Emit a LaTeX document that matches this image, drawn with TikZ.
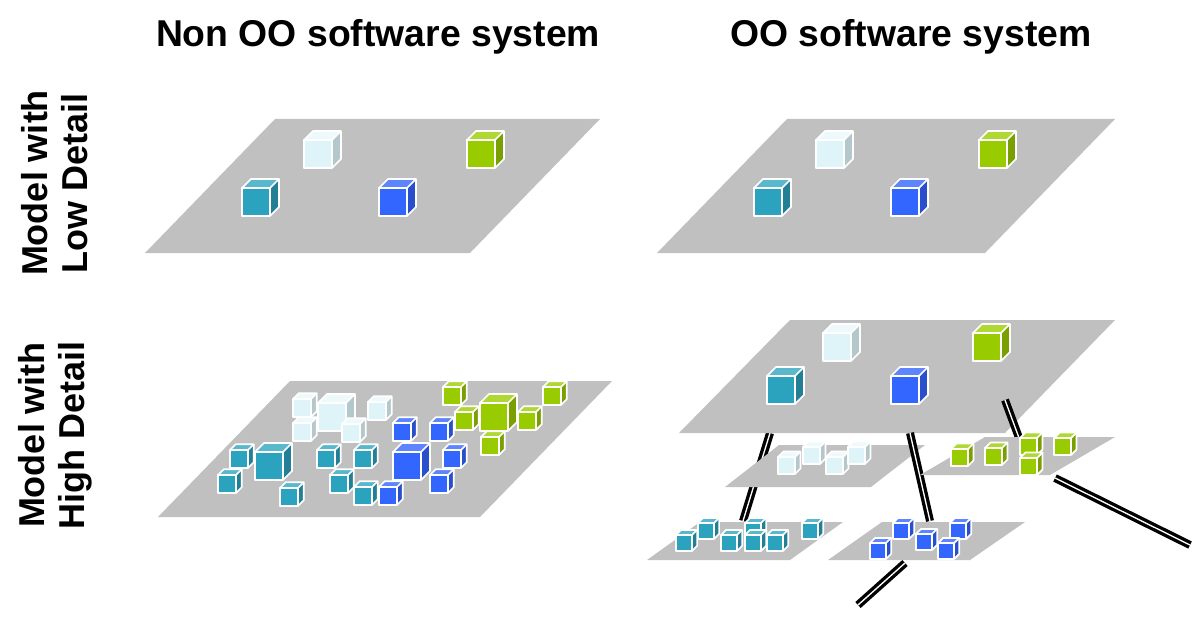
\documentclass[tikz,border=0pt]{standalone}
\usepackage{fontspec}
\setmainfont{Liberation Sans}
\definecolor{lF}{HTML}{DFF4F9}\definecolor{lT}{HTML}{EEF9FC}\definecolor{lS}{HTML}{B4C8CC}
\definecolor{tF}{HTML}{2CA3BE}\definecolor{tT}{HTML}{5AB8CD}\definecolor{tS}{HTML}{237F95}
\definecolor{bF}{HTML}{3366FF}\definecolor{bT}{HTML}{5C85FF}\definecolor{bS}{HTML}{2A4FCC}
\definecolor{gF}{HTML}{99CC00}\definecolor{gT}{HTML}{B0D833}\definecolor{gS}{HTML}{7A9F00}
\definecolor{plane}{HTML}{C0C0C0}
\newcommand\cb[4]{%
  \pgfmathsetmacro\dd{0.32*#3}%
  \fill[#4F] (#1,#2) rectangle ++(#3,#3);
  \fill[#4T] (#1,#2) -- ++(\dd,-\dd) -- ++(#3,0) -- ++(-\dd,\dd) -- cycle;
  \fill[#4S] ({#1+#3},#2) -- ++(\dd,-\dd) -- ++(0,#3) -- ++(-\dd,\dd) -- cycle;
  \draw[cubeedge] (#1,#2) rectangle ++(#3,#3);
  \draw[cubeedge] (#1,{#2+#3}) -- (#1,#2) -- ++(\dd,-\dd) -- ++(#3,0) -- ++(0,#3) -- ++(-\dd,\dd);
  \draw[cubeedge] ({#1+#3},#2) -- ++(\dd,-\dd);
}
\tikzset{cubeedge/.style={white,line width=1.3pt,line join=round},
  planefill/.style={fill=plane},
  title/.style={font=\fontsize{28}{31}\selectfont\bfseries},
  side/.style={font=\fontsize{27}{30}\selectfont\bfseries,align=center,rotate=90},
  lk/.style={line width=6pt,black},
  lkw/.style={line width=1pt,white}}
\newcommand\link[2]{\draw[lk] (#1) -- (#2); \draw[lkw] (#1) -- (#2);}
\begin{document}
\begin{tikzpicture}[x=0.75pt,y=-0.75pt]
\useasboundingbox (0,0) rectangle (1201,624);
\node[title] (t1) at (378,37) {Non OO software system};
\node[title] (t2) at (911,37) {OO software system};
\node[side] (s1) at (55,183) {Model with\\Low Detail};
\node[side] (s2) at (55,435) {Model with\\High Detail};
% top left
\fill[planefill] (145,253) -- (470,253) -- (600,119) -- (275,119) -- cycle;
\cb{304}{140}{28}{l}\cb{467}{140}{28}{g}\cb{242}{188}{28}{t}\cb{379}{188}{28}{b}
% top right
\fill[planefill] (657,253) -- (985,253) -- (1115,119) -- (787,119) -- cycle;
\cb{816}{140}{28}{l}\cb{979}{140}{28}{g}\cb{754}{188}{28}{t}\cb{891}{188}{28}{b}
% bottom left
\fill[planefill] (158,517) -- (480,517) -- (612,381) -- (290,381) -- cycle;
\cb{293}{399}{18}{l}\cb{318}{403}{28}{l}\cb{368}{402}{18}{l}\cb{293}{423}{18}{l}\cb{342}{424}{18}{l}
\cb{443}{387}{18}{g}\cb{543}{387}{18}{g}\cb{455}{412}{18}{g}\cb{480}{403}{28}{g}\cb{518}{412}{18}{g}\cb{481}{437}{18}{g}
\cb{393}{423}{18}{b}\cb{430}{423}{18}{b}\cb{393}{452}{28}{b}\cb{443}{450}{18}{b}\cb{430}{475}{18}{b}
\cb{230}{450}{18}{t}\cb{255}{452}{28}{t}\cb{218}{475}{18}{t}\cb{280}{488}{18}{t}\cb{317}{450}{18}{t}\cb{354}{450}{18}{t}\cb{330}{475}{18}{t}\cb{354}{487}{18}{t}
\cb{379}{487}{18}{b}
% bottom right links (under)
\coordinate (a1) at (770,433); \coordinate (a2) at (743,521);
\coordinate (c1) at (1055,478); \coordinate (c2) at (1190,545);
\coordinate (d1) at (905,563); \coordinate (d2) at (858,605);
\link{a1}{a2}\link{c1}{c2}\link{d1}{d2}
% big plane
\fill[planefill] (679,433) -- (1005,433) -- (1115,320) -- (790,320) -- cycle;
\cb{823}{333}{28}{l}\cb{973}{333}{28}{g}\cb{767}{376}{28}{t}\cb{891}{376}{28}{b}
% light plane
\fill[planefill] (725,487) -- (871,487) -- (925,445) -- (779,445) -- cycle;
\cb{778}{457}{17}{l}\cb{803}{447}{17}{l}\cb{826}{457}{17}{l}\cb{848}{447}{17}{l}
\coordinate (b1) at (910,433); \coordinate (b2) at (930,521);
\link{b1}{b2}
\coordinate (e1) at (1005,400); \coordinate (e2) at (1022,446);
\link{e1}{e2}
% green plane
\fill[planefill] (920,475) -- (1050,475) -- (1115,437) -- (985,437) -- cycle;
\cb{951}{449}{17}{g}\cb{985}{448}{17}{g}\cb{1020}{438}{17}{g}\cb{1054}{438}{17}{g}\cb{1020}{458}{17}{g}
% teal plane
\fill[planefill] (647,560) -- (790,560) -- (843,522) -- (700,522) -- cycle;
\cb{698}{523}{16}{t}\cb{745}{523}{16}{t}\cb{802}{523}{16}{t}
\cb{676}{535}{16}{t}\cb{721}{535}{16}{t}\cb{745}{535}{16}{t}\cb{767}{535}{16}{t}
% blue plane
\fill[planefill] (828,560) -- (970,560) -- (1025,522) -- (882,522) -- cycle;
\cb{893}{523}{16}{b}\cb{950}{523}{16}{b}\cb{916}{534}{16}{b}\cb{870}{543}{16}{b}\cb{938}{543}{16}{b}
\end{tikzpicture}
\end{document}
